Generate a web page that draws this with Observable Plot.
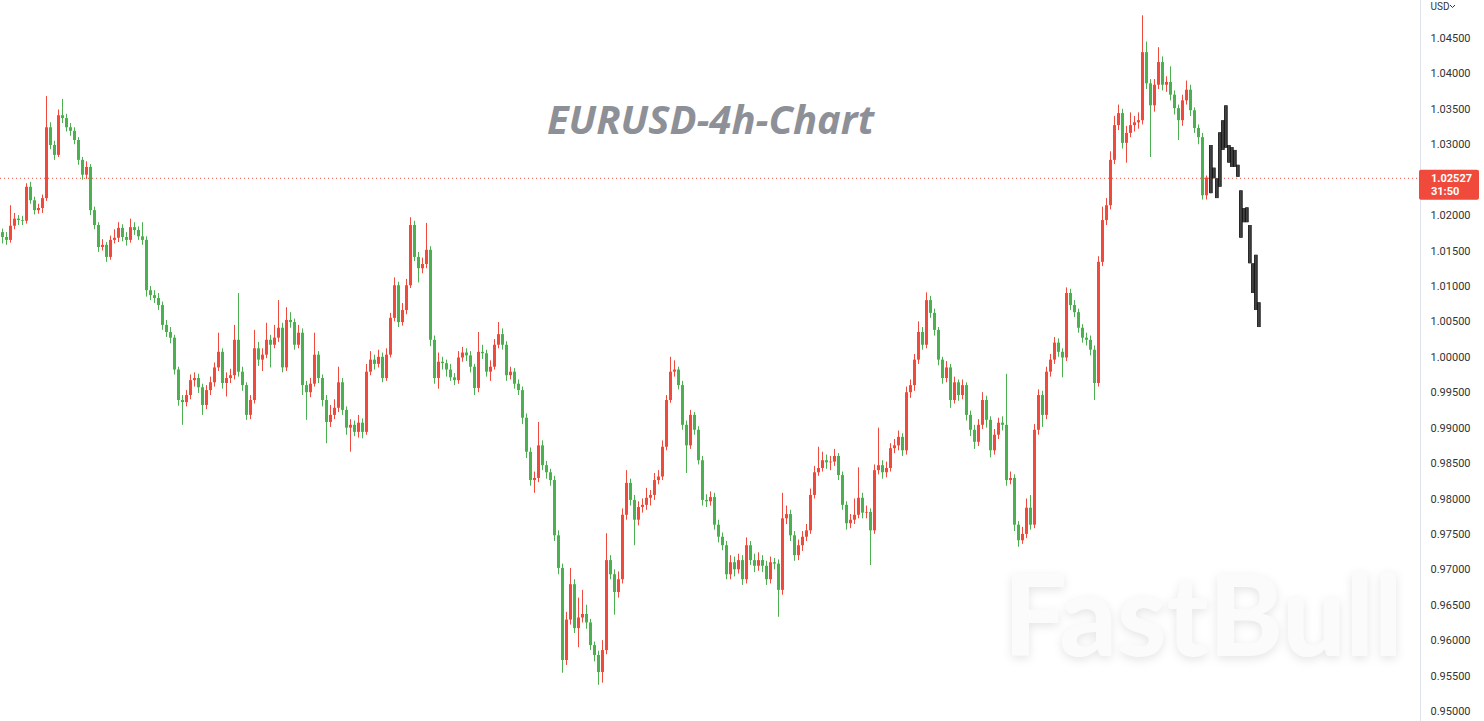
<!DOCTYPE html>
<html><head><meta charset="utf-8">
<script src="https://cdn.jsdelivr.net/npm/d3@7"></script>
<script src="https://cdn.jsdelivr.net/npm/@observablehq/plot@0.6"></script>
<style>html,body{margin:0;padding:0;background:#fff;overflow:hidden}</style>
</head><body><div id="chart"></div>
<script>
// ---- data (EURUSD 4h) ----
const firstOpen = 1.0176;
const closes = [
1.0169,1.0165,1.0185,1.0195,1.0193,1.0192,1.0240,1.0221,1.0207,1.0210,
1.0224,1.0324,1.0299,1.0285,1.0341,1.0337,1.0324,1.0319,1.0306,1.0278,
1.0257,1.0268,1.0207,1.0186,1.0155,1.0158,1.0141,1.0165,1.0168,1.0182,
1.0169,1.0165,1.0183,1.0179,1.0170,1.0165,1.0094,1.0087,1.0083,1.0073,
1.0045,1.0035,1.0027,0.9982,0.9939,0.9936,0.9946,0.9967,0.9970,0.9957,
0.9932,0.9953,0.9964,0.9985,1.0007,0.9963,0.9970,0.9974,1.0024,0.9979,
0.9960,0.9918,0.9939,1.0012,0.9996,1.0003,1.0024,1.0017,1.0027,1.0041,
0.9985,1.0052,1.0049,1.0017,1.0034,0.9960,0.9950,0.9962,1.0003,0.9970,
0.9939,0.9908,0.9918,0.9928,0.9964,0.9925,0.9900,0.9904,0.9894,0.9907,
0.9894,0.9979,0.9996,0.9990,1.0000,0.9970,1.0003,1.0055,1.0101,1.0049,
1.0066,1.0101,1.0186,1.0141,1.0125,1.0131,1.0151,1.0024,0.9970,0.9993,
0.9991,0.9982,0.9971,0.9967,0.9999,1.0006,1.0002,0.9986,0.9956,1.0007,
1.0005,0.9979,0.9986,1.0017,1.0032,1.0017,0.9974,0.9979,0.9962,0.9953,
0.9914,0.9866,0.9826,0.9829,0.9875,0.9847,0.9837,0.9826,0.9748,0.9702,
0.9572,0.9629,0.9679,0.9617,0.9632,0.9637,0.9625,0.9593,0.9579,0.9555,
0.9586,0.9713,0.9693,0.9668,0.9686,0.9777,0.9822,0.9798,0.9770,0.9788,
0.9791,0.9801,0.9805,0.9826,0.9831,0.9873,0.9939,0.9979,0.9982,0.9960,
0.9904,0.9875,0.9918,0.9897,0.9854,0.9798,0.9796,0.9802,0.9763,0.9746,
0.9734,0.9693,0.9710,0.9700,0.9713,0.9686,0.9734,0.9713,0.9705,0.9713,
0.9705,0.9686,0.9710,0.9708,0.9671,0.9772,0.9778,0.9748,0.9720,0.9734,
0.9746,0.9755,0.9805,0.9837,0.9843,0.9854,0.9851,0.9852,0.9860,0.9833,
0.9791,0.9765,0.9770,0.9777,0.9801,0.9780,0.9781,0.9755,0.9840,0.9847,
0.9837,0.9843,0.9871,0.9875,0.9887,0.9868,0.9950,0.9960,0.9996,1.0035,
1.0017,1.0080,1.0062,1.0038,0.9996,0.9970,0.9985,0.9939,0.9964,0.9946,
0.9960,0.9918,0.9897,0.9880,0.9904,0.9939,0.9911,0.9868,0.9890,0.9907,
0.9904,0.9826,0.9829,0.9763,0.9741,0.9750,0.9787,0.9763,0.9897,0.9946,
0.9918,0.9979,0.9996,1.0020,1.0007,0.9999,1.0090,1.0073,1.0063,1.0041,
1.0027,1.0024,1.0010,0.9963,1.0134,1.0193,1.0214,1.0278,1.0327,1.0344,
1.0302,1.0316,1.0327,1.0331,1.0334,1.0430,1.0386,1.0355,1.0384,1.0416,
1.0384,1.0388,1.0370,1.0351,1.0334,1.0362,1.0377,1.0348,1.0323,1.0310,
1.0228,1.0253];
const highs = [
1.0181,1.0176,1.0214,1.0203,1.0200,1.0199,1.0245,1.0247,1.0226,1.0216,
1.0229,1.0368,1.0331,1.0305,1.0349,1.0364,1.0343,1.0330,1.0324,1.0310,
1.0282,1.0276,1.0272,1.0212,1.0190,1.0166,1.0162,1.0171,1.0180,1.0190,
1.0187,1.0176,1.0195,1.0190,1.0184,1.0190,1.0170,1.0100,1.0094,1.0090,
1.0078,1.0052,1.0042,1.0031,0.9986,0.9946,0.9953,0.9975,0.9978,0.9976,
0.9962,0.9960,0.9972,0.9992,1.0034,1.0012,0.9978,0.9983,1.0045,1.0090,
0.9986,0.9964,0.9946,1.0038,1.0021,1.0012,1.0048,1.0031,1.0045,1.0080,
1.0048,1.0070,1.0063,1.0054,1.0045,1.0040,0.9966,0.9970,1.0034,1.0008,
0.9975,0.9946,0.9932,0.9940,0.9986,0.9970,0.9930,0.9912,0.9910,0.9918,
0.9913,0.9990,1.0008,1.0003,1.0010,1.0006,1.0012,1.0062,1.0112,1.0106,
1.0076,1.0110,1.0197,1.0192,1.0148,1.0140,1.0189,1.0156,1.0030,1.0006,
1.0000,0.9996,0.9990,0.9977,1.0008,1.0014,1.0012,1.0008,0.9990,1.0035,
1.0017,1.0010,0.9995,1.0025,1.0049,1.0040,1.0022,0.9986,0.9984,0.9968,
0.9958,0.9920,0.9872,0.9838,0.9908,0.9882,0.9853,0.9842,0.9832,0.9755,
0.9708,0.9640,0.9702,0.9686,0.9660,0.9671,0.9650,0.9630,0.9598,0.9585,
0.9600,0.9751,0.9720,0.9700,0.9697,0.9786,0.9840,0.9828,0.9805,0.9796,
0.9800,0.9815,0.9812,0.9836,0.9840,0.9882,0.9946,1.0000,0.9995,0.9986,
0.9966,0.9910,0.9925,0.9922,0.9902,0.9860,0.9806,0.9810,0.9808,0.9770,
0.9752,0.9740,0.9720,0.9718,0.9722,0.9720,0.9745,0.9740,0.9722,0.9724,
0.9720,0.9712,0.9718,0.9716,0.9714,0.9808,0.9790,0.9784,0.9754,0.9742,
0.9754,0.9764,0.9814,0.9846,0.9873,0.9866,0.9862,0.9860,0.9870,0.9864,
0.9838,0.9796,0.9778,0.9800,0.9844,0.9808,0.9790,0.9786,0.9848,0.9900,
0.9854,0.9852,0.9878,0.9884,0.9896,0.9892,0.9958,0.9968,1.0004,1.0050,
1.0042,1.0091,1.0086,1.0068,1.0042,1.0000,0.9994,0.9990,0.9972,0.9968,
0.9968,0.9964,0.9924,0.9904,0.9912,0.9950,0.9945,0.9916,0.9898,0.9914,
0.9916,0.9976,0.9838,0.9834,0.9768,0.9760,0.9800,0.9805,0.9905,0.9954,
0.9952,0.9986,1.0004,1.0028,1.0026,1.0012,1.0098,1.0096,1.0080,1.0068,
1.0046,1.0034,1.0030,1.0016,1.0142,1.0212,1.0224,1.0290,1.0340,1.0356,
1.0350,1.0326,1.0345,1.0340,1.0345,1.0482,1.0445,1.0392,1.0392,1.0437,
1.0424,1.0396,1.0410,1.0376,1.0356,1.0370,1.0390,1.0384,1.0352,1.0328,
1.0316,1.0256];
const lows = [
1.0160,1.0158,1.0161,1.0180,1.0186,1.0186,1.0188,1.0216,1.0201,1.0202,
1.0203,1.0220,1.0293,1.0278,1.0282,1.0330,1.0318,1.0312,1.0300,1.0271,
1.0250,1.0251,1.0200,1.0180,1.0148,1.0150,1.0134,1.0137,1.0160,1.0162,
1.0163,1.0157,1.0161,1.0172,1.0165,1.0158,1.0085,1.0080,1.0076,1.0066,
1.0038,1.0028,1.0019,0.9975,0.9931,0.9904,0.9930,0.9940,0.9958,0.9949,
0.9918,0.9926,0.9946,0.9958,0.9980,0.9955,0.9944,0.9963,0.9968,0.9972,
0.9952,0.9911,0.9912,0.9934,0.9987,0.9980,0.9998,0.9985,1.0012,1.0021,
0.9978,0.9980,1.0041,1.0010,1.0012,0.9946,0.9911,0.9943,0.9958,0.9963,
0.9930,0.9878,0.9901,0.9912,0.9922,0.9918,0.9890,0.9866,0.9888,0.9886,
0.9885,0.9890,0.9974,0.9982,0.9985,0.9964,0.9966,0.9999,1.0050,1.0042,
1.0044,1.0060,1.0097,1.0135,1.0105,1.0118,1.0125,1.0015,0.9962,0.9955,
0.9982,0.9972,0.9966,0.9960,0.9962,0.9993,0.9994,0.9978,0.9946,0.9950,
0.9997,0.9972,0.9966,0.9982,1.0012,1.0010,0.9966,0.9968,0.9955,0.9946,
0.9905,0.9857,0.9818,0.9808,0.9823,0.9840,0.9828,0.9818,0.9740,0.9693,
0.9554,0.9565,0.9622,0.9610,0.9590,0.9625,0.9616,0.9586,0.9570,0.9537,
0.9540,0.9580,0.9686,0.9636,0.9660,0.9680,0.9770,0.9790,0.9734,0.9762,
0.9780,0.9784,0.9790,0.9798,0.9820,0.9826,0.9868,0.9935,0.9972,0.9954,
0.9897,0.9836,0.9870,0.9890,0.9848,0.9790,0.9788,0.9790,0.9756,0.9738,
0.9727,0.9686,0.9686,0.9690,0.9694,0.9678,0.9680,0.9706,0.9696,0.9698,
0.9696,0.9678,0.9680,0.9700,0.9633,0.9664,0.9764,0.9740,0.9712,0.9713,
0.9726,0.9740,0.9750,0.9800,0.9832,0.9838,0.9842,0.9840,0.9846,0.9826,
0.9784,0.9756,0.9758,0.9764,0.9772,0.9772,0.9772,0.9706,0.9750,0.9834,
0.9828,0.9830,0.9838,0.9864,0.9868,0.9860,0.9862,0.9942,0.9952,0.9990,
1.0010,1.0012,1.0055,1.0030,0.9988,0.9962,0.9964,0.9928,0.9934,0.9938,
0.9940,0.9910,0.9888,0.9870,0.9874,0.9898,0.9900,0.9858,0.9862,0.9884,
0.9896,0.9818,0.9820,0.9754,0.9732,0.9736,0.9744,0.9756,0.9758,0.9890,
0.9901,0.9912,0.9972,0.9990,1.0000,0.9971,0.9994,1.0066,1.0056,1.0034,
1.0020,1.0016,1.0002,0.9939,0.9958,1.0128,1.0186,1.0208,1.0272,1.0320,
1.0294,1.0274,1.0310,1.0318,1.0322,1.0328,1.0378,1.0282,1.0346,1.0378,
1.0376,1.0374,1.0362,1.0342,1.0306,1.0326,1.0356,1.0340,1.0316,1.0300,
1.0222,1.0222];
// hand-drawn black projection bars (top / bottom of each bar)
const projTop    = [1.0299,1.0267,1.0252,1.0317,1.0334,1.0355,1.0299,1.0296,1.0292,1.0271,1.0235,1.0210,1.0211,1.0186,1.0132,1.0144,1.0077];
const projBottom = [1.0231,1.0252,1.0224,1.0240,1.0292,1.0295,1.0274,1.0268,1.0268,1.0254,1.0168,1.0190,1.0190,1.0132,1.0090,1.0066,1.0042];
const yTicks = [1.045,1.040,1.035,1.030,1.020,1.015,1.010,1.005,1.000,0.995,0.990,0.985,0.980,0.975,0.970,0.965,0.960,0.955,0.950];
const lastPrice = 1.02527;
const countdown = "31:50";
const title = "EURUSD-4h-Chart";
const watermark = "FastBull";
const currency = "USD";

// ---- build ----
const candles = closes.map((c, i) => ({i, o: i === 0 ? firstOpen : closes[i - 1], c, h: highs[i], l: lows[i]}));
// projection bars are drawn tighter than the candles (3 px instead of 4 px apart)
const proj = projTop.map((t, j) => ({i: closes.length + 0.1 + j * 0.75, t, b: projBottom[j]}));
const UP = "#ef4a3b", DOWN = "#4caf50";
const col = d => d.c >= d.o ? UP : DOWN;

const plot = Plot.plot({
  width: 1484, height: 721,
  marginLeft: 0, marginRight: 64, marginTop: 38, marginBottom: 10,
  x: {domain: [-0.5, 354.5], axis: null},
  y: {domain: [0.95, 1.045]},
  style: {background: "#fff", fontFamily: "Roboto, 'Noto Sans', sans-serif", overflow: "visible"},
  marks: [
    Plot.text([watermark], {text: d => d, frameAnchor: "bottom-right", dx: -18, dy: -56, textAnchor: "end", lineAnchor: "bottom",
      fontSize: 112, fontWeight: 900, fontFamily: "Lato", fill: "#fbfbfb"}),
    Plot.text([title], {text: d => d, frameAnchor: "top", dy: 83, lineAnchor: "middle", fontSize: 40, fontWeight: "bold", fontStyle: "italic",
      fontFamily: "'Open Sans'", fill: "#8e9097"}),
    Plot.ruleY([lastPrice], {stroke: UP, strokeDasharray: "1,3", strokeWidth: 1}),
    Plot.ruleX(candles, {x: "i", y1: "l", y2: "h", stroke: col, strokeWidth: 1}),
    Plot.ruleX(candles, {x: "i", y1: "o", y2: "c", stroke: col, strokeWidth: 3}),
    Plot.ruleX(proj, {x: "i", y1: "b", y2: "t", stroke: "#111", strokeWidth: 3.6}),
    Plot.ruleX(proj, {x: "i", y1: "b", y2: "t", stroke: "#4a4a4a", strokeWidth: 1.6}),
    Plot.axisY({anchor: "right", ticks: yTicks, tickSize: 0, tickPadding: 10, tickFormat: d3.format(".5f"),
      fontSize: 11, fill: "#333", label: null}),
    Plot.text([currency], {text: d => d, frameAnchor: "top-right", dx: 10, dy: -32, textAnchor: "start", lineAnchor: "middle", fontSize: 10, fill: "#333"})
  ]
});

const svg = d3.select(plot);
// watermark soft shadow
svg.selectAll("text").filter(function() { return this.textContent === watermark; })
  .style("filter", "drop-shadow(0px 3px 5px rgba(0,0,0,0.10))");
// currency dropdown chevron
svg.append("path").attr("d", "M1450,5 L1452.5,7.5 L1455,5").attr("fill", "none").attr("stroke", "#333").attr("stroke-width", 1);
// price-axis separator
svg.append("line").attr("x1", 1420.5).attr("x2", 1420.5).attr("y1", 0).attr("y2", 721)
  .attr("stroke", "#e0e3eb").attr("stroke-width", 1);
// last price tag
const yp = plot.scale("y").apply(lastPrice);
const tag = svg.append("g").attr("text-anchor", "start");
tag.append("rect").attr("x", 1419).attr("y", yp - 8).attr("width", 60).attr("height", 30).attr("rx", 2).attr("fill", UP);
tag.append("text").attr("x", 1431).attr("y", yp + 4).attr("fill", "#fff").attr("font-size", 11).attr("font-weight", "bold")
  .attr("font-family", "Roboto, sans-serif").text(d3.format(".5f")(lastPrice));
tag.append("text").attr("x", 1431).attr("y", yp + 17).attr("fill", "#fff").attr("font-size", 11).attr("font-weight", "bold")
  .attr("font-family", "Roboto, sans-serif").text(countdown);

document.getElementById("chart").appendChild(plot);
</script>
</body></html>
